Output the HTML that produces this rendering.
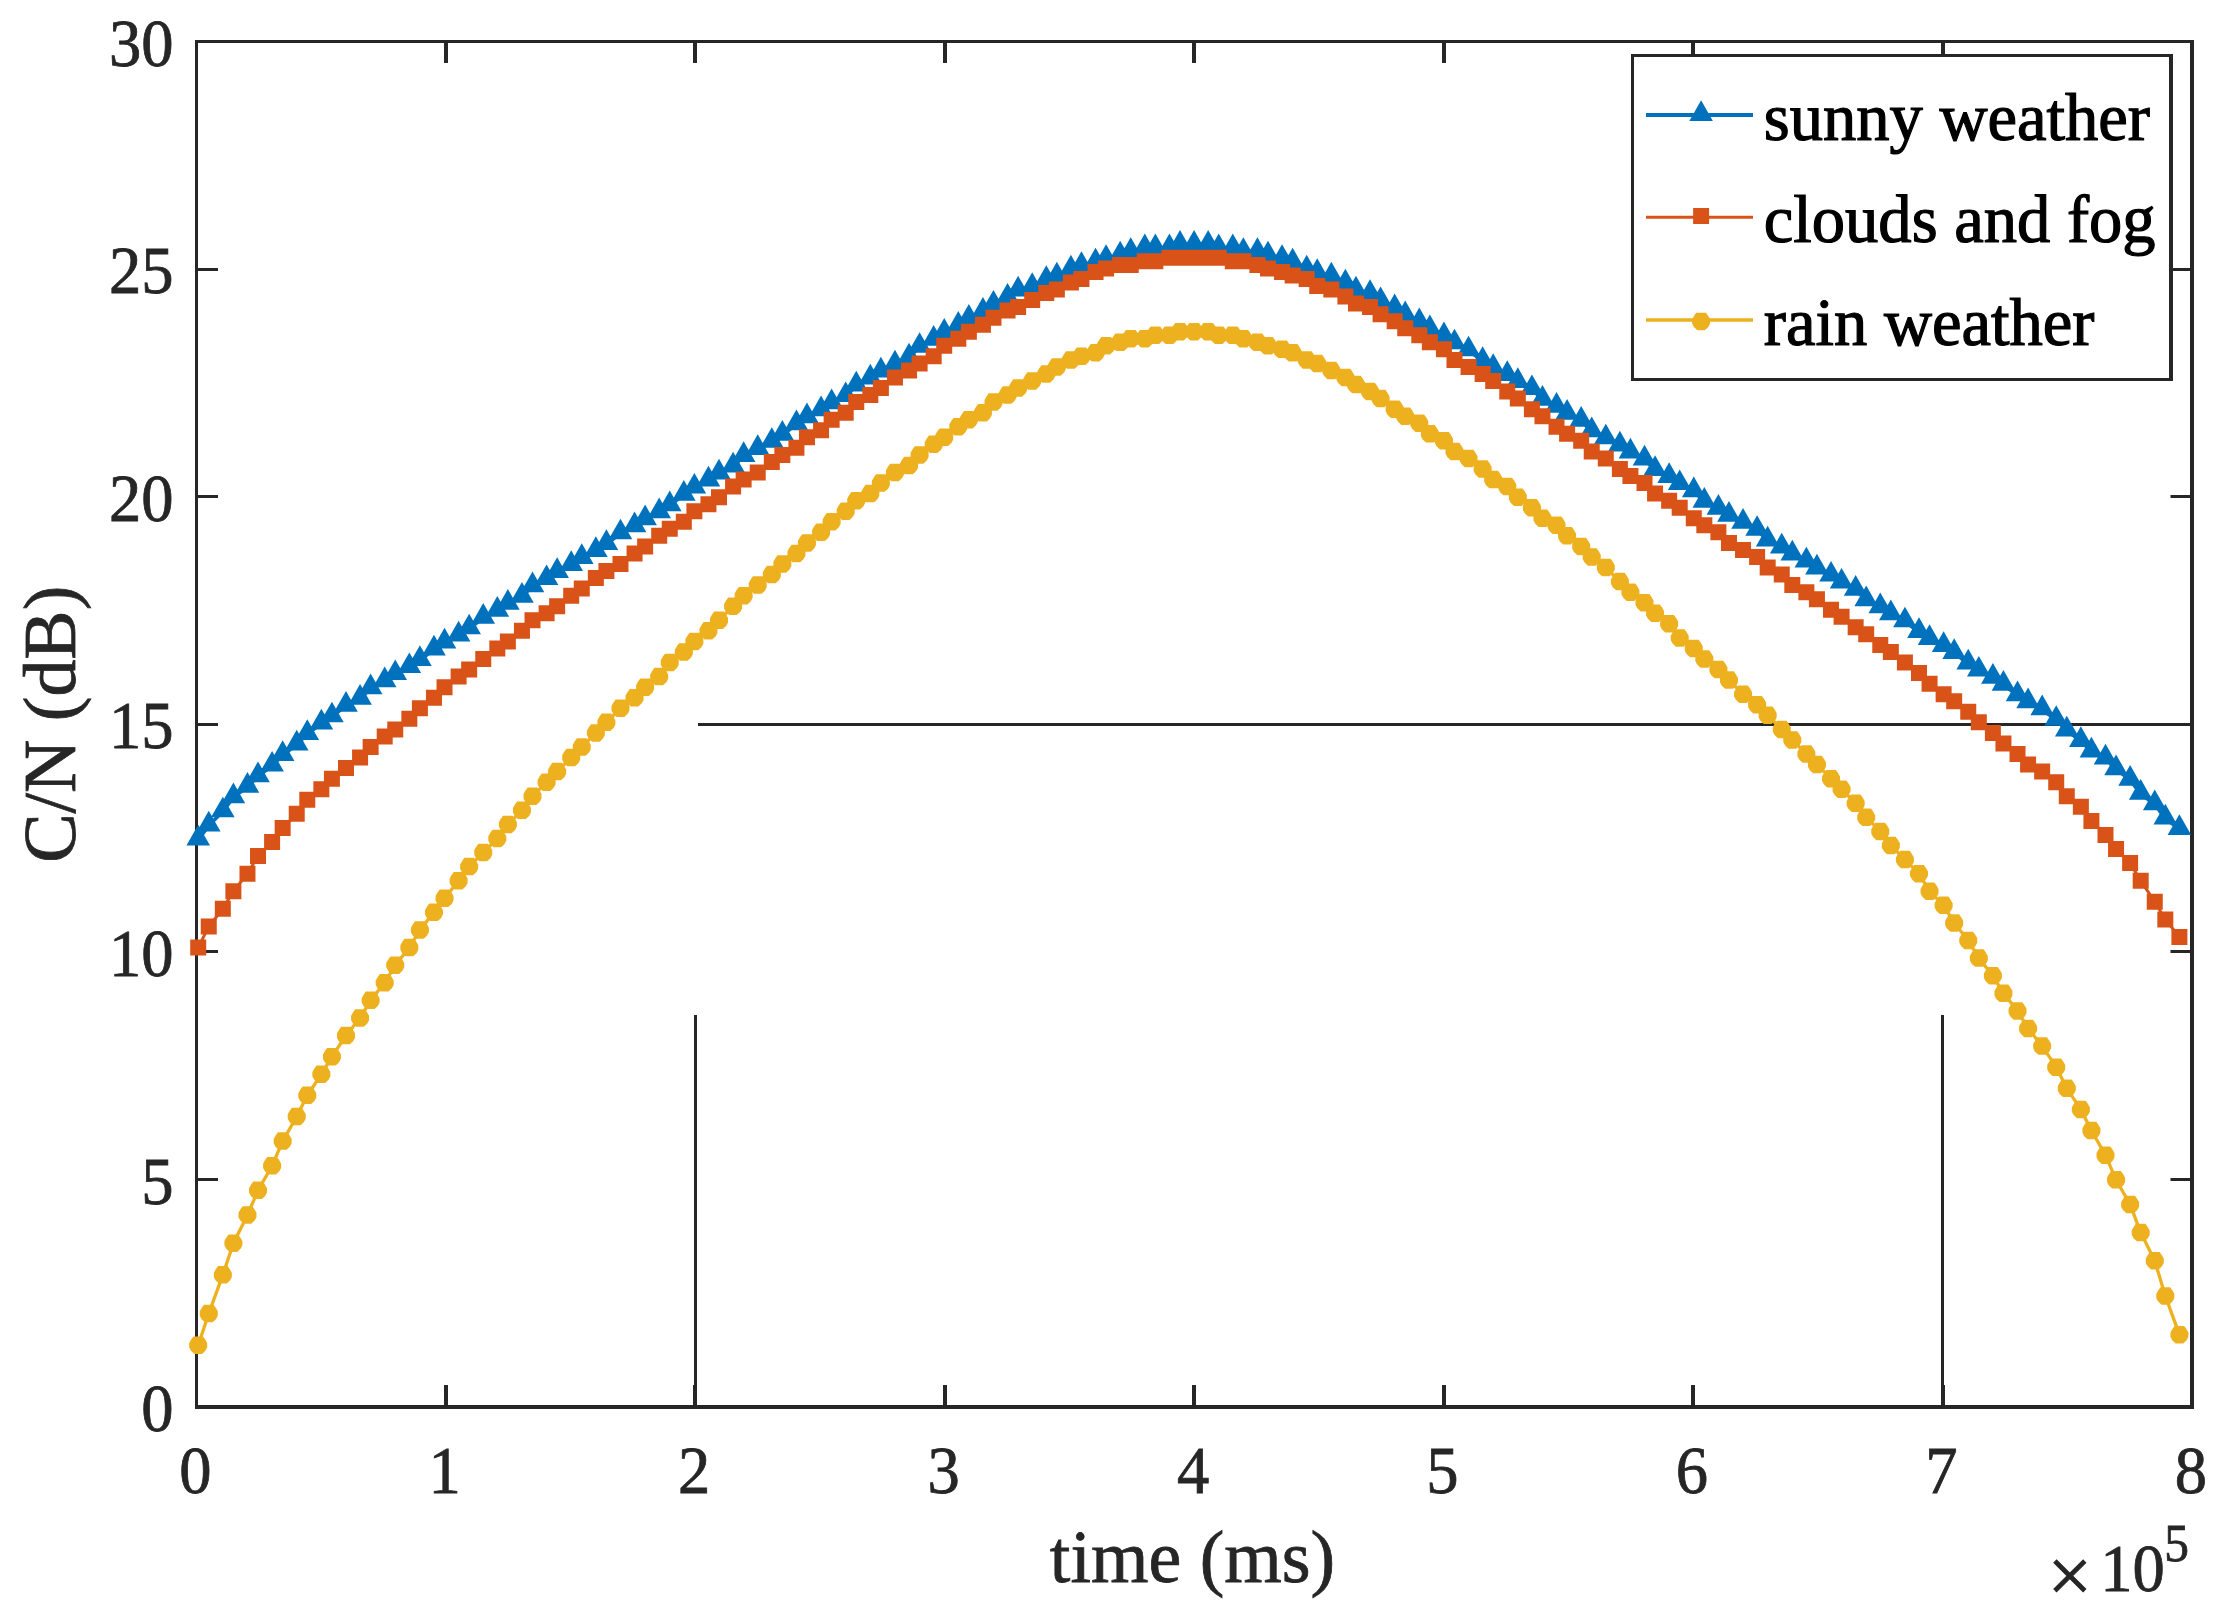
<!DOCTYPE html>
<html><head><meta charset="utf-8"><title>C/N vs time</title>
<style>
html,body{margin:0;padding:0;background:#fff;overflow:hidden;}
svg{display:block;}
text{font-family:"Liberation Serif",serif;}
.tk{font-size:68px;fill:#262626;stroke:#262626;stroke-width:0.8px;}
.lb{font-size:74.8px;fill:#262626;stroke:#262626;stroke-width:0.8px;}
.lg{font-size:68px;fill:#000;stroke:#000;stroke-width:1.2px;}
</style></head><body>
<svg width="2217" height="1607" viewBox="0 0 2217 1607">
<rect x="0" y="0" width="2217" height="1607" fill="#fff"/>

<path d="M195 40H198V1409H195ZM195 40H2194V43H195ZM2190 40H2194V1409H2190ZM195 1405H2194V1409H195ZM444 1385H448V1407H444ZM444 41.5H448V63H444ZM693 1385H697V1407H693ZM693 41.5H697V63H693ZM943 1385H947V1407H943ZM943 41.5H947V63H943ZM1192 1385H1196V1407H1192ZM1192 41.5H1196V63H1192ZM1442 1385H1446V1407H1442ZM1442 41.5H1446V63H1442ZM1691 1385H1695V1407H1691ZM1691 41.5H1695V63H1691ZM1941 1385H1945V1407H1941ZM1941 41.5H1945V63H1941ZM196.5 1178H218V1181H196.5ZM2170.5 1178H2192V1181H2170.5ZM196.5 950H218V953H196.5ZM2170.5 950H2192V953H2170.5ZM196.5 723H218V726H196.5ZM2170.5 723H2192V726H2170.5ZM196.5 495H218V498H196.5ZM2170.5 495H2192V498H2170.5ZM196.5 268H218V271H196.5ZM2170.5 268H2192V271H2170.5ZM694 1015H697V1407H694ZM1941 1015H1944V1407H1941ZM698 723H2192V726H698Z" fill="#262626"/>
<text class="tk" transform="translate(195.30 1492.5) scale(0.95 1)" text-anchor="middle">0</text>
<text class="tk" transform="translate(444.74 1492.5) scale(0.95 1)" text-anchor="middle">1</text>
<text class="tk" transform="translate(694.17 1492.5) scale(0.95 1)" text-anchor="middle">2</text>
<text class="tk" transform="translate(943.61 1492.5) scale(0.95 1)" text-anchor="middle">3</text>
<text class="tk" transform="translate(1193.05 1492.5) scale(0.95 1)" text-anchor="middle">4</text>
<text class="tk" transform="translate(1442.49 1492.5) scale(0.95 1)" text-anchor="middle">5</text>
<text class="tk" transform="translate(1691.92 1492.5) scale(0.95 1)" text-anchor="middle">6</text>
<text class="tk" transform="translate(1941.36 1492.5) scale(0.95 1)" text-anchor="middle">7</text>
<text class="tk" transform="translate(2190.80 1492.5) scale(0.95 1)" text-anchor="middle">8</text>
<text class="tk" transform="translate(173.5 1431.10) scale(0.95 1)" text-anchor="end">0</text>
<text class="tk" transform="translate(173.5 1203.52) scale(0.95 1)" text-anchor="end">5</text>
<text class="tk" transform="translate(173.5 975.93) scale(0.95 1)" text-anchor="end">10</text>
<text class="tk" transform="translate(173.5 748.35) scale(0.95 1)" text-anchor="end">15</text>
<text class="tk" transform="translate(173.5 520.77) scale(0.95 1)" text-anchor="end">20</text>
<text class="tk" transform="translate(173.5 293.18) scale(0.95 1)" text-anchor="end">25</text>
<text class="tk" transform="translate(173.5 65.60) scale(0.95 1)" text-anchor="end">30</text>
<text class="lb" transform="translate(1192.5 1581.8) scale(0.988 1)" text-anchor="middle">time (ms)</text>
<text class="lb" transform="translate(75.1 724.3) rotate(-90) scale(0.988 1)" text-anchor="middle">C/N (dB)</text>
<text class="tk" x="2047.5" y="1601.5" style="font-size:79px">×</text>
<text class="tk" transform="translate(2132.6 1591.3) scale(0.95 1)" text-anchor="middle">10</text>
<text class="tk" transform="translate(2176.5 1561) scale(0.95 1)" text-anchor="middle" style="font-size:52px">5</text>
<polyline points="198.20,839.61 208.76,825.53 222.83,811.46 233.39,797.38 247.47,786.83 258.02,776.27 272.10,765.71 282.66,755.15 296.73,744.60 307.29,734.04 321.37,723.48 331.92,716.45 346.00,705.89 360.07,698.85 370.63,688.29 384.71,681.26 395.26,674.22 409.34,667.18 419.90,660.14 433.97,649.58 444.53,642.55 458.61,635.51 469.16,628.47 483.24,617.91 497.31,610.88 507.87,603.84 521.95,596.80 532.50,586.24 546.58,579.20 557.14,572.17 571.21,565.13 581.77,558.09 595.85,551.05 606.40,544.01 620.48,533.46 634.56,526.42 645.11,519.38 659.19,512.34 669.75,505.31 683.82,494.75 694.38,487.71 708.45,480.67 719.01,473.63 733.09,466.60 743.64,456.04 757.72,449.00 771.80,441.96 782.35,434.93 796.43,424.37 806.99,417.33 821.06,410.29 831.62,403.25 845.70,396.22 856.25,385.66 870.33,378.62 880.89,371.58 894.96,364.55 909.04,357.51 919.60,346.95 933.67,339.91 944.23,332.87 958.30,325.84 968.86,318.80 982.94,311.76 993.49,304.72 1007.57,297.68 1018.13,290.65 1032.20,287.13 1046.28,280.09 1056.84,276.57 1070.91,269.53 1081.47,266.01 1095.55,262.49 1106.10,258.98 1120.18,255.46 1130.74,251.94 1144.81,248.42 1155.37,248.42 1169.44,248.42 1180.00,244.90 1194.08,244.90 1208.15,244.90 1218.71,248.42 1232.79,248.42 1243.34,251.94 1257.42,251.94 1267.98,255.46 1282.05,258.98 1292.61,262.49 1306.69,269.53 1317.24,273.05 1331.32,276.57 1345.39,283.61 1355.95,290.65 1370.03,294.17 1380.58,301.20 1394.66,308.24 1405.22,315.28 1419.29,322.32 1429.85,329.36 1443.93,336.39 1454.48,343.43 1468.56,350.47 1482.63,361.03 1493.19,368.06 1507.27,375.10 1517.83,382.14 1531.90,389.18 1542.46,399.74 1556.53,406.77 1567.09,413.81 1581.17,420.85 1591.72,431.41 1605.80,438.44 1619.88,445.48 1630.43,452.52 1644.51,459.56 1655.07,470.12 1669.14,477.15 1679.70,484.19 1693.78,491.23 1704.33,501.79 1718.41,508.82 1728.97,515.86 1743.04,522.90 1757.12,529.94 1767.67,540.50 1781.75,547.53 1792.31,554.57 1806.38,561.61 1816.94,568.65 1831.02,575.69 1841.57,582.72 1855.65,589.76 1866.21,600.32 1880.28,607.36 1890.84,614.39 1904.92,621.43 1918.99,631.99 1929.55,639.03 1943.62,646.07 1954.18,653.10 1968.26,663.66 1978.81,670.70 1992.89,677.74 2003.45,684.77 2017.52,695.33 2028.08,702.37 2042.16,709.41 2056.23,719.96 2066.79,730.52 2080.86,741.08 2091.42,751.64 2105.50,758.67 2116.05,769.23 2130.13,779.79 2140.69,793.86 2154.76,804.42 2165.32,818.50 2179.40,829.05" fill="none" stroke="#0072BD" stroke-width="3.7" stroke-linejoin="round"/>
<path d="M198.20 824.81L210.00 845.51H186.40ZM208.76 810.73L220.56 831.43H196.96ZM222.83 796.66L234.63 817.36H211.03ZM233.39 782.58L245.19 803.28H221.59ZM247.47 772.03L259.27 792.73H235.67ZM258.02 761.47L269.82 782.17H246.22ZM272.10 750.91L283.90 771.61H260.30ZM282.66 740.35L294.46 761.05H270.86ZM296.73 729.80L308.53 750.50H284.93ZM307.29 719.24L319.09 739.94H295.49ZM321.37 708.68L333.17 729.38H309.56ZM331.92 701.65L343.72 722.35H320.12ZM346.00 691.09L357.80 711.79H334.20ZM360.07 684.05L371.87 704.75H348.27ZM370.63 673.49L382.43 694.19H358.83ZM384.71 666.46L396.51 687.16H372.91ZM395.26 659.42L407.06 680.12H383.46ZM409.34 652.38L421.14 673.08H397.54ZM419.90 645.34L431.70 666.04H408.10ZM433.97 634.78L445.77 655.48H422.17ZM444.53 627.75L456.33 648.45H432.73ZM458.61 620.71L470.41 641.41H446.81ZM469.16 613.67L480.96 634.37H457.36ZM483.24 603.11L495.04 623.81H471.44ZM497.31 596.08L509.12 616.78H485.51ZM507.87 589.04L519.67 609.74H496.07ZM521.95 582.00L533.75 602.70H510.15ZM532.50 571.44L544.30 592.14H520.71ZM546.58 564.40L558.38 585.10H534.78ZM557.14 557.37L568.94 578.07H545.34ZM571.21 550.33L583.01 571.03H559.41ZM581.77 543.29L593.57 563.99H569.97ZM595.85 536.25L607.65 556.95H584.05ZM606.40 529.21L618.20 549.91H594.60ZM620.48 518.66L632.28 539.36H608.68ZM634.56 511.62L646.36 532.32H622.76ZM645.11 504.58L656.91 525.28H633.31ZM659.19 497.54L670.99 518.24H647.39ZM669.75 490.50L681.55 511.20H657.95ZM683.82 479.95L695.62 500.65H672.02ZM694.38 472.91L706.18 493.61H682.58ZM708.45 465.87L720.25 486.57H696.65ZM719.01 458.83L730.81 479.53H707.21ZM733.09 451.80L744.89 472.50H721.29ZM743.64 441.24L755.44 461.94H731.85ZM757.72 434.20L769.52 454.90H745.92ZM771.80 427.16L783.60 447.86H760.00ZM782.35 420.12L794.15 440.82H770.55ZM796.43 409.57L808.23 430.27H784.63ZM806.99 402.53L818.79 423.23H795.19ZM821.06 395.49L832.86 416.19H809.26ZM831.62 388.45L843.42 409.15H819.82ZM845.70 381.42L857.50 402.12H833.90ZM856.25 370.86L868.05 391.56H844.45ZM870.33 363.82L882.13 384.52H858.53ZM880.89 356.78L892.69 377.48H869.09ZM894.96 349.75L906.76 370.44H883.16ZM909.04 342.71L920.84 363.41H897.24ZM919.60 332.15L931.39 352.85H907.80ZM933.67 325.11L945.47 345.81H921.87ZM944.23 318.07L956.03 338.77H932.43ZM958.30 311.04L970.10 331.74H946.50ZM968.86 304.00L980.66 324.70H957.06ZM982.94 296.96L994.74 317.66H971.14ZM993.49 289.92L1005.29 310.62H981.69ZM1007.57 282.88L1019.37 303.58H995.77ZM1018.13 275.85L1029.93 296.55H1006.33ZM1032.20 272.33L1044.00 293.03H1020.40ZM1046.28 265.29L1058.08 285.99H1034.48ZM1056.84 261.77L1068.64 282.47H1045.04ZM1070.91 254.73L1082.71 275.43H1059.11ZM1081.47 251.21L1093.27 271.91H1069.67ZM1095.55 247.69L1107.35 268.39H1083.75ZM1106.10 244.18L1117.90 264.88H1094.30ZM1120.18 240.66L1131.98 261.36H1108.38ZM1130.74 237.14L1142.54 257.84H1118.94ZM1144.81 233.62L1156.61 254.32H1133.01ZM1155.37 233.62L1167.17 254.32H1143.57ZM1169.44 233.62L1181.24 254.32H1157.64ZM1180.00 230.10L1191.80 250.80H1168.20ZM1194.08 230.10L1205.88 250.80H1182.28ZM1208.15 230.10L1219.95 250.80H1196.35ZM1218.71 233.62L1230.51 254.32H1206.91ZM1232.79 233.62L1244.59 254.32H1220.99ZM1243.34 237.14L1255.14 257.84H1231.54ZM1257.42 237.14L1269.22 257.84H1245.62ZM1267.98 240.66L1279.78 261.36H1256.18ZM1282.05 244.18L1293.85 264.88H1270.25ZM1292.61 247.69L1304.41 268.39H1280.81ZM1306.69 254.73L1318.49 275.43H1294.89ZM1317.24 258.25L1329.04 278.95H1305.44ZM1331.32 261.77L1343.12 282.47H1319.52ZM1345.39 268.81L1357.19 289.51H1333.59ZM1355.95 275.85L1367.75 296.55H1344.15ZM1370.03 279.37L1381.83 300.06H1358.23ZM1380.58 286.40L1392.38 307.10H1368.78ZM1394.66 293.44L1406.46 314.14H1382.86ZM1405.22 300.48L1417.02 321.18H1393.42ZM1419.29 307.52L1431.09 328.22H1407.49ZM1429.85 314.56L1441.65 335.25H1418.05ZM1443.93 321.59L1455.73 342.29H1432.13ZM1454.48 328.63L1466.28 349.33H1442.68ZM1468.56 335.67L1480.36 356.37H1456.76ZM1482.63 346.23L1494.43 366.93H1470.84ZM1493.19 353.26L1504.99 373.96H1481.39ZM1507.27 360.30L1519.07 381.00H1495.47ZM1517.83 367.34L1529.62 388.04H1506.03ZM1531.90 374.38L1543.70 395.08H1520.10ZM1542.46 384.94L1554.26 405.63H1530.66ZM1556.53 391.97L1568.33 412.67H1544.73ZM1567.09 399.01L1578.89 419.71H1555.29ZM1581.17 406.05L1592.97 426.75H1569.37ZM1591.72 416.61L1603.52 437.31H1579.92ZM1605.80 423.64L1617.60 444.34H1594.00ZM1619.88 430.68L1631.68 451.38H1608.08ZM1630.43 437.72L1642.23 458.42H1618.63ZM1644.51 444.76L1656.31 465.46H1632.71ZM1655.07 455.31L1666.87 476.01H1643.27ZM1669.14 462.35L1680.94 483.05H1657.34ZM1679.70 469.39L1691.50 490.09H1667.90ZM1693.78 476.43L1705.58 497.13H1681.98ZM1704.33 486.99L1716.13 507.69H1692.53ZM1718.41 494.02L1730.21 514.72H1706.61ZM1728.97 501.06L1740.77 521.76H1717.17ZM1743.04 508.10L1754.84 528.80H1731.24ZM1757.12 515.14L1768.92 535.84H1745.32ZM1767.67 525.70L1779.47 546.40H1755.87ZM1781.75 532.73L1793.55 553.43H1769.95ZM1792.31 539.77L1804.11 560.47H1780.51ZM1806.38 546.81L1818.18 567.51H1794.58ZM1816.94 553.85L1828.74 574.55H1805.14ZM1831.02 560.89L1842.82 581.59H1819.22ZM1841.57 567.92L1853.37 588.62H1829.77ZM1855.65 574.96L1867.45 595.66H1843.85ZM1866.21 585.52L1878.01 606.22H1854.41ZM1880.28 592.56L1892.08 613.26H1868.48ZM1890.84 599.59L1902.64 620.29H1879.04ZM1904.92 606.63L1916.72 627.33H1893.12ZM1918.99 617.19L1930.79 637.89H1907.19ZM1929.55 624.23L1941.35 644.93H1917.75ZM1943.62 631.27L1955.42 651.97H1931.82ZM1954.18 638.30L1965.98 659.00H1942.38ZM1968.26 648.86L1980.06 669.56H1956.46ZM1978.81 655.90L1990.61 676.60H1967.01ZM1992.89 662.94L2004.69 683.64H1981.09ZM2003.45 669.97L2015.25 690.67H1991.65ZM2017.52 680.53L2029.32 701.23H2005.72ZM2028.08 687.57L2039.88 708.27H2016.28ZM2042.16 694.61L2053.96 715.31H2030.36ZM2056.23 705.16L2068.03 725.86H2044.43ZM2066.79 715.72L2078.59 736.42H2054.99ZM2080.86 726.28L2092.66 746.98H2069.06ZM2091.42 736.84L2103.22 757.54H2079.62ZM2105.50 743.87L2117.30 764.57H2093.70ZM2116.05 754.43L2127.86 775.13H2104.25ZM2130.13 764.99L2141.93 785.69H2118.33ZM2140.69 779.06L2152.49 799.76H2128.89ZM2154.76 789.62L2166.56 810.32H2142.96ZM2165.32 803.70L2177.12 824.40H2153.52ZM2179.40 814.25L2191.20 834.95H2167.60Z" fill="#0072BD"/>
<polyline points="198.20,947.56 208.76,926.45 222.83,908.85 233.39,891.26 247.47,873.66 258.02,856.07 272.10,841.99 282.66,827.92 296.73,813.84 307.29,799.76 321.37,789.21 331.92,778.65 346.00,768.09 360.07,757.54 370.63,746.98 384.71,736.42 395.26,729.38 409.34,718.83 419.90,708.27 433.97,697.71 444.53,687.16 458.61,676.60 469.16,669.56 483.24,659.00 497.31,648.45 507.87,641.41 521.95,630.85 532.50,620.29 546.58,613.26 557.14,606.22 571.21,595.66 581.77,588.62 595.85,578.07 606.40,571.03 620.48,563.99 634.56,553.43 645.11,546.40 659.19,535.84 669.75,528.80 683.82,521.76 694.38,511.20 708.45,504.17 719.01,497.13 733.09,486.57 743.64,479.53 757.72,472.50 771.80,461.94 782.35,454.90 796.43,447.86 806.99,437.31 821.06,430.27 831.62,419.71 845.70,412.67 856.25,402.12 870.33,395.08 880.89,388.04 894.96,377.48 909.04,370.44 919.60,363.41 933.67,356.37 944.23,345.81 958.30,338.77 968.86,331.74 982.94,324.70 993.49,317.66 1007.57,310.62 1018.13,307.10 1032.20,300.06 1046.28,293.03 1056.84,289.51 1070.91,282.47 1081.47,278.95 1095.55,271.91 1106.10,268.39 1120.18,264.88 1130.74,264.88 1144.81,261.36 1155.37,261.36 1169.44,257.84 1180.00,257.84 1194.08,257.84 1208.15,257.84 1218.71,257.84 1232.79,261.36 1243.34,261.36 1257.42,264.88 1267.98,268.39 1282.05,271.91 1292.61,275.43 1306.69,278.95 1317.24,285.99 1331.32,289.51 1345.39,296.55 1355.95,303.58 1370.03,307.10 1380.58,314.14 1394.66,321.18 1405.22,328.22 1419.29,335.25 1429.85,342.29 1443.93,349.33 1454.48,359.89 1468.56,366.93 1482.63,373.96 1493.19,381.00 1507.27,391.56 1517.83,398.60 1531.90,409.15 1542.46,416.19 1556.53,426.75 1567.09,433.79 1581.17,440.82 1591.72,451.38 1605.80,458.42 1619.88,468.98 1630.43,476.01 1644.51,483.05 1655.07,493.61 1669.14,500.65 1679.70,507.69 1693.78,518.24 1704.33,525.28 1718.41,532.32 1728.97,542.88 1743.04,549.91 1757.12,556.95 1767.67,567.51 1781.75,574.55 1792.31,585.10 1806.38,592.14 1816.94,599.18 1831.02,609.74 1841.57,616.78 1855.65,627.33 1866.21,634.37 1880.28,644.93 1890.84,651.97 1904.92,662.52 1918.99,673.08 1929.55,683.64 1943.62,694.19 1954.18,701.23 1968.26,711.79 1978.81,722.35 1992.89,732.90 2003.45,743.46 2017.52,754.02 2028.08,764.57 2042.16,771.61 2056.23,782.17 2066.79,796.24 2080.86,806.80 2091.42,820.88 2105.50,834.95 2116.05,849.03 2130.13,863.11 2140.69,880.70 2154.76,901.81 2165.32,919.41 2179.40,937.00" fill="none" stroke="#D95319" stroke-width="3.0" stroke-linejoin="round"/>
<path d="M190.20 939.56h16v16h-16ZM200.76 918.45h16v16h-16ZM214.83 900.85h16v16h-16ZM225.39 883.26h16v16h-16ZM239.47 865.66h16v16h-16ZM250.02 848.07h16v16h-16ZM264.10 833.99h16v16h-16ZM274.66 819.92h16v16h-16ZM288.73 805.84h16v16h-16ZM299.29 791.76h16v16h-16ZM313.37 781.21h16v16h-16ZM323.92 770.65h16v16h-16ZM338.00 760.09h16v16h-16ZM352.07 749.54h16v16h-16ZM362.63 738.98h16v16h-16ZM376.71 728.42h16v16h-16ZM387.26 721.38h16v16h-16ZM401.34 710.83h16v16h-16ZM411.90 700.27h16v16h-16ZM425.97 689.71h16v16h-16ZM436.53 679.16h16v16h-16ZM450.61 668.60h16v16h-16ZM461.16 661.56h16v16h-16ZM475.24 651.00h16v16h-16ZM489.31 640.45h16v16h-16ZM499.87 633.41h16v16h-16ZM513.95 622.85h16v16h-16ZM524.50 612.29h16v16h-16ZM538.58 605.26h16v16h-16ZM549.14 598.22h16v16h-16ZM563.21 587.66h16v16h-16ZM573.77 580.62h16v16h-16ZM587.85 570.07h16v16h-16ZM598.40 563.03h16v16h-16ZM612.48 555.99h16v16h-16ZM626.56 545.43h16v16h-16ZM637.11 538.40h16v16h-16ZM651.19 527.84h16v16h-16ZM661.75 520.80h16v16h-16ZM675.82 513.76h16v16h-16ZM686.38 503.20h16v16h-16ZM700.45 496.17h16v16h-16ZM711.01 489.13h16v16h-16ZM725.09 478.57h16v16h-16ZM735.64 471.53h16v16h-16ZM749.72 464.50h16v16h-16ZM763.80 453.94h16v16h-16ZM774.35 446.90h16v16h-16ZM788.43 439.86h16v16h-16ZM798.99 429.31h16v16h-16ZM813.06 422.27h16v16h-16ZM823.62 411.71h16v16h-16ZM837.70 404.67h16v16h-16ZM848.25 394.12h16v16h-16ZM862.33 387.08h16v16h-16ZM872.89 380.04h16v16h-16ZM886.96 369.48h16v16h-16ZM901.04 362.44h16v16h-16ZM911.60 355.41h16v16h-16ZM925.67 348.37h16v16h-16ZM936.23 337.81h16v16h-16ZM950.30 330.77h16v16h-16ZM960.86 323.74h16v16h-16ZM974.94 316.70h16v16h-16ZM985.49 309.66h16v16h-16ZM999.57 302.62h16v16h-16ZM1010.13 299.10h16v16h-16ZM1024.20 292.06h16v16h-16ZM1038.28 285.03h16v16h-16ZM1048.84 281.51h16v16h-16ZM1062.91 274.47h16v16h-16ZM1073.47 270.95h16v16h-16ZM1087.55 263.91h16v16h-16ZM1098.10 260.39h16v16h-16ZM1112.18 256.88h16v16h-16ZM1122.74 256.88h16v16h-16ZM1136.81 253.36h16v16h-16ZM1147.37 253.36h16v16h-16ZM1161.44 249.84h16v16h-16ZM1172.00 249.84h16v16h-16ZM1186.08 249.84h16v16h-16ZM1200.15 249.84h16v16h-16ZM1210.71 249.84h16v16h-16ZM1224.79 253.36h16v16h-16ZM1235.34 253.36h16v16h-16ZM1249.42 256.88h16v16h-16ZM1259.98 260.39h16v16h-16ZM1274.05 263.91h16v16h-16ZM1284.61 267.43h16v16h-16ZM1298.69 270.95h16v16h-16ZM1309.24 277.99h16v16h-16ZM1323.32 281.51h16v16h-16ZM1337.39 288.55h16v16h-16ZM1347.95 295.58h16v16h-16ZM1362.03 299.10h16v16h-16ZM1372.58 306.14h16v16h-16ZM1386.66 313.18h16v16h-16ZM1397.22 320.22h16v16h-16ZM1411.29 327.25h16v16h-16ZM1421.85 334.29h16v16h-16ZM1435.93 341.33h16v16h-16ZM1446.48 351.89h16v16h-16ZM1460.56 358.93h16v16h-16ZM1474.63 365.96h16v16h-16ZM1485.19 373.00h16v16h-16ZM1499.27 383.56h16v16h-16ZM1509.83 390.60h16v16h-16ZM1523.90 401.15h16v16h-16ZM1534.46 408.19h16v16h-16ZM1548.53 418.75h16v16h-16ZM1559.09 425.79h16v16h-16ZM1573.17 432.82h16v16h-16ZM1583.72 443.38h16v16h-16ZM1597.80 450.42h16v16h-16ZM1611.88 460.98h16v16h-16ZM1622.43 468.01h16v16h-16ZM1636.51 475.05h16v16h-16ZM1647.07 485.61h16v16h-16ZM1661.14 492.65h16v16h-16ZM1671.70 499.69h16v16h-16ZM1685.78 510.24h16v16h-16ZM1696.33 517.28h16v16h-16ZM1710.41 524.32h16v16h-16ZM1720.97 534.88h16v16h-16ZM1735.04 541.91h16v16h-16ZM1749.12 548.95h16v16h-16ZM1759.67 559.51h16v16h-16ZM1773.75 566.55h16v16h-16ZM1784.31 577.10h16v16h-16ZM1798.38 584.14h16v16h-16ZM1808.94 591.18h16v16h-16ZM1823.02 601.74h16v16h-16ZM1833.57 608.78h16v16h-16ZM1847.65 619.33h16v16h-16ZM1858.21 626.37h16v16h-16ZM1872.28 636.93h16v16h-16ZM1882.84 643.97h16v16h-16ZM1896.92 654.52h16v16h-16ZM1910.99 665.08h16v16h-16ZM1921.55 675.64h16v16h-16ZM1935.62 686.19h16v16h-16ZM1946.18 693.23h16v16h-16ZM1960.26 703.79h16v16h-16ZM1970.81 714.35h16v16h-16ZM1984.89 724.90h16v16h-16ZM1995.45 735.46h16v16h-16ZM2009.52 746.02h16v16h-16ZM2020.08 756.57h16v16h-16ZM2034.16 763.61h16v16h-16ZM2048.23 774.17h16v16h-16ZM2058.79 788.24h16v16h-16ZM2072.86 798.80h16v16h-16ZM2083.42 812.88h16v16h-16ZM2097.50 826.95h16v16h-16ZM2108.05 841.03h16v16h-16ZM2122.13 855.11h16v16h-16ZM2132.69 872.70h16v16h-16ZM2146.76 893.81h16v16h-16ZM2157.32 911.41h16v16h-16ZM2171.40 929.00h16v16h-16Z" fill="#D95319"/>
<polyline points="198.20,1345.21 208.76,1313.54 222.83,1274.83 233.39,1243.16 247.47,1215.01 258.02,1190.37 272.10,1165.74 282.66,1141.11 296.73,1116.47 307.29,1095.36 321.37,1074.25 331.92,1056.65 346.00,1035.54 360.07,1017.94 370.63,1000.35 384.71,982.75 395.26,965.16 409.34,947.56 419.90,929.97 433.97,912.37 444.53,898.30 458.61,880.70 469.16,866.62 483.24,852.55 497.31,838.47 507.87,824.40 521.95,810.32 532.50,796.24 546.58,782.17 557.14,771.61 571.21,757.54 581.77,746.98 595.85,732.90 606.40,722.35 620.48,708.27 634.56,697.71 645.11,687.16 659.19,676.60 669.75,662.52 683.82,651.97 694.38,641.41 708.45,630.85 719.01,620.29 733.09,606.22 743.64,595.66 757.72,585.10 771.80,574.55 782.35,563.99 796.43,553.43 806.99,542.88 821.06,532.32 831.62,521.76 845.70,511.20 856.25,500.65 870.33,493.61 880.89,483.05 894.96,472.50 909.04,465.46 919.60,454.90 933.67,444.34 944.23,437.31 958.30,426.75 968.86,419.71 982.94,412.67 993.49,402.12 1007.57,395.08 1018.13,388.04 1032.20,381.00 1046.28,373.96 1056.84,366.93 1070.91,359.89 1081.47,356.37 1095.55,352.85 1106.10,345.81 1120.18,342.29 1130.74,338.77 1144.81,338.77 1155.37,335.25 1169.44,335.25 1180.00,331.74 1194.08,331.74 1208.15,331.74 1218.71,335.25 1232.79,335.25 1243.34,338.77 1257.42,342.29 1267.98,345.81 1282.05,349.33 1292.61,352.85 1306.69,359.89 1317.24,363.41 1331.32,370.44 1345.39,377.48 1355.95,384.52 1370.03,391.56 1380.58,398.60 1394.66,409.15 1405.22,416.19 1419.29,423.23 1429.85,433.79 1443.93,440.82 1454.48,451.38 1468.56,458.42 1482.63,468.98 1493.19,479.53 1507.27,486.57 1517.83,497.13 1531.90,507.69 1542.46,518.24 1556.53,525.28 1567.09,535.84 1581.17,546.40 1591.72,556.95 1605.80,567.51 1619.88,581.59 1630.43,592.14 1644.51,602.70 1655.07,613.26 1669.14,623.81 1679.70,637.89 1693.78,648.45 1704.33,659.00 1718.41,669.56 1728.97,680.12 1743.04,694.19 1757.12,704.75 1767.67,715.31 1781.75,729.38 1792.31,739.94 1806.38,754.02 1816.94,764.57 1831.02,778.65 1841.57,789.21 1855.65,803.28 1866.21,817.36 1880.28,831.43 1890.84,845.51 1904.92,859.59 1918.99,873.66 1929.55,891.26 1943.62,905.33 1954.18,922.93 1968.26,940.52 1978.81,958.12 1992.89,975.71 2003.45,993.31 2017.52,1010.90 2028.08,1028.50 2042.16,1046.09 2056.23,1067.21 2066.79,1088.32 2080.86,1109.44 2091.42,1130.55 2105.50,1155.18 2116.05,1179.82 2130.13,1204.45 2140.69,1232.60 2154.76,1260.75 2165.32,1295.94 2179.40,1334.65" fill="none" stroke="#EDB120" stroke-width="3.3" stroke-linejoin="round"/>
<path d="M193.40 1336.46L203.00 1336.46L205.20 1339.51L207.20 1343.01L207.20 1347.41L205.40 1350.81L202.00 1353.96L194.40 1353.96L191.00 1350.81L189.20 1347.41L189.20 1343.01L191.20 1339.51ZM203.96 1304.79L213.56 1304.79L215.76 1307.84L217.76 1311.34L217.76 1315.74L215.96 1319.14L212.56 1322.29L204.96 1322.29L201.56 1319.14L199.76 1315.74L199.76 1311.34L201.76 1307.84ZM218.03 1266.08L227.63 1266.08L229.83 1269.13L231.83 1272.63L231.83 1277.03L230.03 1280.43L226.63 1283.58L219.03 1283.58L215.63 1280.43L213.83 1277.03L213.83 1272.63L215.83 1269.13ZM228.59 1234.41L238.19 1234.41L240.39 1237.46L242.39 1240.96L242.39 1245.36L240.59 1248.76L237.19 1251.91L229.59 1251.91L226.19 1248.76L224.39 1245.36L224.39 1240.96L226.39 1237.46ZM242.67 1206.26L252.27 1206.26L254.47 1209.31L256.47 1212.81L256.47 1217.21L254.67 1220.61L251.27 1223.76L243.67 1223.76L240.27 1220.61L238.47 1217.21L238.47 1212.81L240.47 1209.31ZM253.22 1181.62L262.82 1181.62L265.02 1184.67L267.02 1188.17L267.02 1192.57L265.22 1195.97L261.82 1199.12L254.22 1199.12L250.82 1195.97L249.02 1192.57L249.02 1188.17L251.02 1184.67ZM267.30 1156.99L276.90 1156.99L279.10 1160.04L281.10 1163.54L281.10 1167.94L279.30 1171.34L275.90 1174.49L268.30 1174.49L264.90 1171.34L263.10 1167.94L263.10 1163.54L265.10 1160.04ZM277.86 1132.36L287.46 1132.36L289.66 1135.41L291.66 1138.91L291.66 1143.31L289.86 1146.71L286.46 1149.86L278.86 1149.86L275.46 1146.71L273.66 1143.31L273.66 1138.91L275.66 1135.41ZM291.93 1107.72L301.53 1107.72L303.73 1110.77L305.73 1114.27L305.73 1118.67L303.93 1122.07L300.53 1125.22L292.93 1125.22L289.53 1122.07L287.73 1118.67L287.73 1114.27L289.73 1110.77ZM302.49 1086.61L312.09 1086.61L314.29 1089.66L316.29 1093.16L316.29 1097.56L314.49 1100.96L311.09 1104.11L303.49 1104.11L300.09 1100.96L298.29 1097.56L298.29 1093.16L300.29 1089.66ZM316.56 1065.50L326.17 1065.50L328.37 1068.55L330.37 1072.05L330.37 1076.45L328.56 1079.85L325.17 1083.00L317.56 1083.00L314.17 1079.85L312.37 1076.45L312.37 1072.05L314.37 1068.55ZM327.12 1047.90L336.72 1047.90L338.92 1050.95L340.92 1054.45L340.92 1058.85L339.12 1062.25L335.72 1065.40L328.12 1065.40L324.72 1062.25L322.92 1058.85L322.92 1054.45L324.92 1050.95ZM341.20 1026.79L350.80 1026.79L353.00 1029.84L355.00 1033.34L355.00 1037.74L353.20 1041.14L349.80 1044.29L342.20 1044.29L338.80 1041.14L337.00 1037.74L337.00 1033.34L339.00 1029.84ZM355.27 1009.19L364.87 1009.19L367.07 1012.24L369.07 1015.74L369.07 1020.14L367.27 1023.54L363.87 1026.69L356.27 1026.69L352.87 1023.54L351.07 1020.14L351.07 1015.74L353.07 1012.24ZM365.83 991.60L375.43 991.60L377.63 994.65L379.63 998.15L379.63 1002.55L377.83 1005.95L374.43 1009.10L366.83 1009.10L363.43 1005.95L361.63 1002.55L361.63 998.15L363.63 994.65ZM379.91 974.00L389.51 974.00L391.71 977.05L393.71 980.55L393.71 984.95L391.91 988.35L388.51 991.50L380.91 991.50L377.51 988.35L375.71 984.95L375.71 980.55L377.71 977.05ZM390.46 956.41L400.06 956.41L402.26 959.46L404.26 962.96L404.26 967.36L402.46 970.76L399.06 973.91L391.46 973.91L388.06 970.76L386.26 967.36L386.26 962.96L388.26 959.46ZM404.54 938.81L414.14 938.81L416.34 941.86L418.34 945.36L418.34 949.76L416.54 953.16L413.14 956.31L405.54 956.31L402.14 953.16L400.34 949.76L400.34 945.36L402.34 941.86ZM415.10 921.22L424.70 921.22L426.90 924.27L428.90 927.77L428.90 932.17L427.10 935.57L423.70 938.72L416.10 938.72L412.70 935.57L410.90 932.17L410.90 927.77L412.90 924.27ZM429.17 903.62L438.77 903.62L440.97 906.67L442.97 910.17L442.97 914.57L441.17 917.97L437.77 921.12L430.17 921.12L426.77 917.97L424.97 914.57L424.97 910.17L426.97 906.67ZM439.73 889.55L449.33 889.55L451.53 892.60L453.53 896.10L453.53 900.50L451.73 903.90L448.33 907.05L440.73 907.05L437.33 903.90L435.53 900.50L435.53 896.10L437.53 892.60ZM453.81 871.95L463.41 871.95L465.61 875.00L467.61 878.50L467.61 882.90L465.81 886.30L462.41 889.45L454.81 889.45L451.41 886.30L449.61 882.90L449.61 878.50L451.61 875.00ZM464.36 857.87L473.96 857.87L476.16 860.92L478.16 864.42L478.16 868.82L476.36 872.22L472.96 875.37L465.36 875.37L461.96 872.22L460.16 868.82L460.16 864.42L462.16 860.92ZM478.44 843.80L488.04 843.80L490.24 846.85L492.24 850.35L492.24 854.75L490.44 858.15L487.04 861.30L479.44 861.30L476.04 858.15L474.24 854.75L474.24 850.35L476.24 846.85ZM492.51 829.72L502.12 829.72L504.31 832.77L506.31 836.27L506.31 840.67L504.51 844.07L501.12 847.22L493.51 847.22L490.12 844.07L488.31 840.67L488.31 836.27L490.31 832.77ZM503.07 815.65L512.67 815.65L514.87 818.70L516.87 822.20L516.87 826.60L515.07 830.00L511.67 833.15L504.07 833.15L500.67 830.00L498.87 826.60L498.87 822.20L500.87 818.70ZM517.15 801.57L526.75 801.57L528.95 804.62L530.95 808.12L530.95 812.52L529.15 815.92L525.75 819.07L518.15 819.07L514.75 815.92L512.95 812.52L512.95 808.12L514.95 804.62ZM527.71 787.49L537.30 787.49L539.50 790.54L541.50 794.04L541.50 798.44L539.71 801.84L536.30 804.99L528.71 804.99L525.30 801.84L523.50 798.44L523.50 794.04L525.50 790.54ZM541.78 773.42L551.38 773.42L553.58 776.47L555.58 779.97L555.58 784.37L553.78 787.77L550.38 790.92L542.78 790.92L539.38 787.77L537.58 784.37L537.58 779.97L539.58 776.47ZM552.34 762.86L561.94 762.86L564.14 765.91L566.14 769.41L566.14 773.81L564.34 777.21L560.94 780.36L553.34 780.36L549.94 777.21L548.14 773.81L548.14 769.41L550.14 765.91ZM566.41 748.79L576.01 748.79L578.21 751.84L580.21 755.34L580.21 759.74L578.41 763.14L575.01 766.29L567.41 766.29L564.01 763.14L562.21 759.74L562.21 755.34L564.21 751.84ZM576.97 738.23L586.57 738.23L588.77 741.28L590.77 744.78L590.77 749.18L588.97 752.58L585.57 755.73L577.97 755.73L574.57 752.58L572.77 749.18L572.77 744.78L574.77 741.28ZM591.05 724.15L600.65 724.15L602.85 727.20L604.85 730.70L604.85 735.10L603.05 738.50L599.65 741.65L592.05 741.65L588.65 738.50L586.85 735.10L586.85 730.70L588.85 727.20ZM601.60 713.60L611.20 713.60L613.40 716.64L615.40 720.14L615.40 724.55L613.60 727.95L610.20 731.10L602.60 731.10L599.20 727.95L597.40 724.55L597.40 720.14L599.40 716.64ZM615.68 699.52L625.28 699.52L627.48 702.57L629.48 706.07L629.48 710.47L627.68 713.87L624.28 717.02L616.68 717.02L613.28 713.87L611.48 710.47L611.48 706.07L613.48 702.57ZM629.76 688.96L639.36 688.96L641.56 692.01L643.56 695.51L643.56 699.91L641.76 703.31L638.36 706.46L630.76 706.46L627.36 703.31L625.56 699.91L625.56 695.51L627.56 692.01ZM640.31 678.41L649.91 678.41L652.11 681.46L654.11 684.96L654.11 689.36L652.31 692.76L648.91 695.91L641.31 695.91L637.91 692.76L636.11 689.36L636.11 684.96L638.11 681.46ZM654.39 667.85L663.99 667.85L666.19 670.90L668.19 674.40L668.19 678.80L666.39 682.20L662.99 685.35L655.39 685.35L651.99 682.20L650.19 678.80L650.19 674.40L652.19 670.90ZM664.95 653.77L674.55 653.77L676.75 656.82L678.75 660.32L678.75 664.72L676.95 668.12L673.55 671.27L665.95 671.27L662.55 668.12L660.75 664.72L660.75 660.32L662.75 656.82ZM679.02 643.22L688.62 643.22L690.82 646.26L692.82 649.76L692.82 654.17L691.02 657.57L687.62 660.72L680.02 660.72L676.62 657.57L674.82 654.17L674.82 649.76L676.82 646.26ZM689.58 632.66L699.18 632.66L701.38 635.71L703.38 639.21L703.38 643.61L701.58 647.01L698.18 650.16L690.58 650.16L687.18 647.01L685.38 643.61L685.38 639.21L687.38 635.71ZM703.65 622.10L713.25 622.10L715.45 625.15L717.45 628.65L717.45 633.05L715.65 636.45L712.25 639.60L704.65 639.60L701.25 636.45L699.45 633.05L699.45 628.65L701.45 625.15ZM714.21 611.54L723.81 611.54L726.01 614.59L728.01 618.09L728.01 622.49L726.21 625.89L722.81 629.04L715.21 629.04L711.81 625.89L710.01 622.49L710.01 618.09L712.01 614.59ZM728.29 597.47L737.89 597.47L740.09 600.52L742.09 604.02L742.09 608.42L740.29 611.82L736.89 614.97L729.29 614.97L725.89 611.82L724.09 608.42L724.09 604.02L726.09 600.52ZM738.85 586.91L748.44 586.91L750.64 589.96L752.64 593.46L752.64 597.86L750.85 601.26L747.44 604.41L739.85 604.41L736.44 601.26L734.64 597.86L734.64 593.46L736.64 589.96ZM752.92 576.35L762.52 576.35L764.72 579.40L766.72 582.90L766.72 587.30L764.92 590.70L761.52 593.85L753.92 593.85L750.52 590.70L748.72 587.30L748.72 582.90L750.72 579.40ZM767.00 565.80L776.60 565.80L778.80 568.85L780.80 572.35L780.80 576.75L779.00 580.15L775.60 583.30L768.00 583.30L764.60 580.15L762.80 576.75L762.80 572.35L764.80 568.85ZM777.55 555.24L787.15 555.24L789.35 558.29L791.35 561.79L791.35 566.19L789.55 569.59L786.15 572.74L778.55 572.74L775.15 569.59L773.35 566.19L773.35 561.79L775.35 558.29ZM791.63 544.68L801.23 544.68L803.43 547.73L805.43 551.23L805.43 555.63L803.63 559.03L800.23 562.18L792.63 562.18L789.23 559.03L787.43 555.63L787.43 551.23L789.43 547.73ZM802.19 534.13L811.79 534.13L813.99 537.18L815.99 540.68L815.99 545.08L814.19 548.48L810.79 551.63L803.19 551.63L799.79 548.48L797.99 545.08L797.99 540.68L799.99 537.18ZM816.26 523.57L825.86 523.57L828.06 526.62L830.06 530.12L830.06 534.52L828.26 537.92L824.86 541.07L817.26 541.07L813.86 537.92L812.06 534.52L812.06 530.12L814.06 526.62ZM826.82 513.01L836.42 513.01L838.62 516.06L840.62 519.56L840.62 523.96L838.82 527.36L835.42 530.51L827.82 530.51L824.42 527.36L822.62 523.96L822.62 519.56L824.62 516.06ZM840.90 502.45L850.50 502.45L852.70 505.50L854.70 509.00L854.70 513.40L852.90 516.80L849.50 519.95L841.90 519.95L838.50 516.80L836.70 513.40L836.70 509.00L838.70 505.50ZM851.45 491.90L861.05 491.90L863.25 494.95L865.25 498.45L865.25 502.85L863.45 506.25L860.05 509.40L852.45 509.40L849.05 506.25L847.25 502.85L847.25 498.45L849.25 494.95ZM865.53 484.86L875.13 484.86L877.33 487.91L879.33 491.41L879.33 495.81L877.53 499.21L874.13 502.36L866.53 502.36L863.13 499.21L861.33 495.81L861.33 491.41L863.33 487.91ZM876.09 474.30L885.69 474.30L887.89 477.35L889.89 480.85L889.89 485.25L888.09 488.65L884.69 491.80L877.09 491.80L873.69 488.65L871.89 485.25L871.89 480.85L873.89 477.35ZM890.16 463.75L899.76 463.75L901.96 466.80L903.96 470.30L903.96 474.70L902.16 478.10L898.76 481.25L891.16 481.25L887.76 478.10L885.96 474.70L885.96 470.30L887.96 466.80ZM904.24 456.71L913.84 456.71L916.04 459.76L918.04 463.26L918.04 467.66L916.24 471.06L912.84 474.21L905.24 474.21L901.84 471.06L900.04 467.66L900.04 463.26L902.04 459.76ZM914.80 446.15L924.39 446.15L926.60 449.20L928.60 452.70L928.60 457.10L926.80 460.50L923.39 463.65L915.80 463.65L912.39 460.50L910.60 457.10L910.60 452.70L912.60 449.20ZM928.87 435.59L938.47 435.59L940.67 438.64L942.67 442.14L942.67 446.54L940.87 449.94L937.47 453.09L929.87 453.09L926.47 449.94L924.67 446.54L924.67 442.14L926.67 438.64ZM939.43 428.56L949.03 428.56L951.23 431.61L953.23 435.11L953.23 439.51L951.43 442.91L948.03 446.06L940.43 446.06L937.03 442.91L935.23 439.51L935.23 435.11L937.23 431.61ZM953.50 418.00L963.10 418.00L965.30 421.05L967.30 424.55L967.30 428.95L965.50 432.35L962.10 435.50L954.50 435.50L951.10 432.35L949.30 428.95L949.30 424.55L951.30 421.05ZM964.06 410.96L973.66 410.96L975.86 414.01L977.86 417.51L977.86 421.91L976.06 425.31L972.66 428.46L965.06 428.46L961.66 425.31L959.86 421.91L959.86 417.51L961.86 414.01ZM978.14 403.92L987.74 403.92L989.94 406.97L991.94 410.47L991.94 414.87L990.14 418.27L986.74 421.42L979.14 421.42L975.74 418.27L973.94 414.87L973.94 410.47L975.94 406.97ZM988.69 393.37L998.29 393.37L1000.49 396.42L1002.49 399.92L1002.49 404.32L1000.69 407.72L997.29 410.87L989.69 410.87L986.29 407.72L984.49 404.32L984.49 399.92L986.49 396.42ZM1002.77 386.33L1012.37 386.33L1014.57 389.38L1016.57 392.88L1016.57 397.28L1014.77 400.68L1011.37 403.83L1003.77 403.83L1000.37 400.68L998.57 397.28L998.57 392.88L1000.57 389.38ZM1013.33 379.29L1022.93 379.29L1025.13 382.34L1027.13 385.84L1027.13 390.24L1025.33 393.64L1021.93 396.79L1014.33 396.79L1010.93 393.64L1009.13 390.24L1009.13 385.84L1011.13 382.34ZM1027.40 372.25L1037.00 372.25L1039.20 375.30L1041.20 378.80L1041.20 383.20L1039.40 386.60L1036.00 389.75L1028.40 389.75L1025.00 386.60L1023.20 383.20L1023.20 378.80L1025.20 375.30ZM1041.48 365.21L1051.08 365.21L1053.28 368.26L1055.28 371.76L1055.28 376.16L1053.48 379.56L1050.08 382.71L1042.48 382.71L1039.08 379.56L1037.28 376.16L1037.28 371.76L1039.28 368.26ZM1052.04 358.18L1061.64 358.18L1063.84 361.23L1065.84 364.73L1065.84 369.13L1064.04 372.53L1060.64 375.68L1053.04 375.68L1049.64 372.53L1047.84 369.13L1047.84 364.73L1049.84 361.23ZM1066.11 351.14L1075.71 351.14L1077.91 354.19L1079.91 357.69L1079.91 362.09L1078.11 365.49L1074.71 368.64L1067.11 368.64L1063.71 365.49L1061.91 362.09L1061.91 357.69L1063.91 354.19ZM1076.67 347.62L1086.27 347.62L1088.47 350.67L1090.47 354.17L1090.47 358.57L1088.67 361.97L1085.27 365.12L1077.67 365.12L1074.27 361.97L1072.47 358.57L1072.47 354.17L1074.47 350.67ZM1090.75 344.10L1100.35 344.10L1102.55 347.15L1104.55 350.65L1104.55 355.05L1102.75 358.45L1099.35 361.60L1091.75 361.60L1088.35 358.45L1086.55 355.05L1086.55 350.65L1088.55 347.15ZM1101.30 337.06L1110.90 337.06L1113.10 340.11L1115.10 343.61L1115.10 348.01L1113.30 351.41L1109.90 354.56L1102.30 354.56L1098.90 351.41L1097.10 348.01L1097.10 343.61L1099.10 340.11ZM1115.38 333.54L1124.98 333.54L1127.18 336.59L1129.18 340.09L1129.18 344.49L1127.38 347.89L1123.98 351.04L1116.38 351.04L1112.98 347.89L1111.18 344.49L1111.18 340.09L1113.18 336.59ZM1125.94 330.02L1135.54 330.02L1137.74 333.07L1139.74 336.57L1139.74 340.97L1137.94 344.37L1134.54 347.52L1126.94 347.52L1123.54 344.37L1121.74 340.97L1121.74 336.57L1123.74 333.07ZM1140.01 330.02L1149.61 330.02L1151.81 333.07L1153.81 336.57L1153.81 340.97L1152.01 344.37L1148.61 347.52L1141.01 347.52L1137.61 344.37L1135.81 340.97L1135.81 336.57L1137.81 333.07ZM1150.57 326.50L1160.17 326.50L1162.37 329.56L1164.37 333.06L1164.37 337.45L1162.57 340.86L1159.17 344.00L1151.57 344.00L1148.17 340.86L1146.37 337.45L1146.37 333.06L1148.37 329.56ZM1164.64 326.50L1174.24 326.50L1176.44 329.56L1178.44 333.06L1178.44 337.45L1176.64 340.86L1173.24 344.00L1165.64 344.00L1162.24 340.86L1160.44 337.45L1160.44 333.06L1162.44 329.56ZM1175.20 322.99L1184.80 322.99L1187.00 326.04L1189.00 329.54L1189.00 333.94L1187.20 337.34L1183.80 340.49L1176.20 340.49L1172.80 337.34L1171.00 333.94L1171.00 329.54L1173.00 326.04ZM1189.28 322.99L1198.88 322.99L1201.08 326.04L1203.08 329.54L1203.08 333.94L1201.28 337.34L1197.88 340.49L1190.28 340.49L1186.88 337.34L1185.08 333.94L1185.08 329.54L1187.08 326.04ZM1203.35 322.99L1212.95 322.99L1215.15 326.04L1217.15 329.54L1217.15 333.94L1215.35 337.34L1211.95 340.49L1204.35 340.49L1200.95 337.34L1199.15 333.94L1199.15 329.54L1201.15 326.04ZM1213.91 326.50L1223.51 326.50L1225.71 329.56L1227.71 333.06L1227.71 337.45L1225.91 340.86L1222.51 344.00L1214.91 344.00L1211.51 340.86L1209.71 337.45L1209.71 333.06L1211.71 329.56ZM1227.99 326.50L1237.59 326.50L1239.79 329.56L1241.79 333.06L1241.79 337.45L1239.99 340.86L1236.59 344.00L1228.99 344.00L1225.59 340.86L1223.79 337.45L1223.79 333.06L1225.79 329.56ZM1238.54 330.02L1248.14 330.02L1250.34 333.07L1252.34 336.57L1252.34 340.97L1250.54 344.37L1247.14 347.52L1239.54 347.52L1236.14 344.37L1234.34 340.97L1234.34 336.57L1236.34 333.07ZM1252.62 333.54L1262.22 333.54L1264.42 336.59L1266.42 340.09L1266.42 344.49L1264.62 347.89L1261.22 351.04L1253.62 351.04L1250.22 347.89L1248.42 344.49L1248.42 340.09L1250.42 336.59ZM1263.18 337.06L1272.78 337.06L1274.98 340.11L1276.98 343.61L1276.98 348.01L1275.18 351.41L1271.78 354.56L1264.18 354.56L1260.78 351.41L1258.98 348.01L1258.98 343.61L1260.98 340.11ZM1277.25 340.58L1286.85 340.58L1289.05 343.63L1291.05 347.13L1291.05 351.53L1289.25 354.93L1285.85 358.08L1278.25 358.08L1274.85 354.93L1273.05 351.53L1273.05 347.13L1275.05 343.63ZM1287.81 344.10L1297.41 344.10L1299.61 347.15L1301.61 350.65L1301.61 355.05L1299.81 358.45L1296.41 361.60L1288.81 361.60L1285.41 358.45L1283.61 355.05L1283.61 350.65L1285.61 347.15ZM1301.89 351.14L1311.49 351.14L1313.69 354.19L1315.69 357.69L1315.69 362.09L1313.89 365.49L1310.49 368.64L1302.89 368.64L1299.49 365.49L1297.69 362.09L1297.69 357.69L1299.69 354.19ZM1312.44 354.66L1322.04 354.66L1324.24 357.71L1326.24 361.21L1326.24 365.61L1324.44 369.01L1321.04 372.16L1313.44 372.16L1310.04 369.01L1308.24 365.61L1308.24 361.21L1310.24 357.71ZM1326.52 361.69L1336.12 361.69L1338.32 364.75L1340.32 368.25L1340.32 372.64L1338.52 376.05L1335.12 379.19L1327.52 379.19L1324.12 376.05L1322.32 372.64L1322.32 368.25L1324.32 364.75ZM1340.59 368.73L1350.19 368.73L1352.39 371.78L1354.39 375.28L1354.39 379.68L1352.59 383.08L1349.19 386.23L1341.59 386.23L1338.19 383.08L1336.39 379.68L1336.39 375.28L1338.39 371.78ZM1351.15 375.77L1360.75 375.77L1362.95 378.82L1364.95 382.32L1364.95 386.72L1363.15 390.12L1359.75 393.27L1352.15 393.27L1348.75 390.12L1346.95 386.72L1346.95 382.32L1348.95 378.82ZM1365.23 382.81L1374.83 382.81L1377.03 385.86L1379.03 389.36L1379.03 393.76L1377.23 397.16L1373.83 400.31L1366.23 400.31L1362.83 397.16L1361.03 393.76L1361.03 389.36L1363.03 385.86ZM1375.78 389.85L1385.38 389.85L1387.58 392.90L1389.58 396.40L1389.58 400.80L1387.78 404.20L1384.38 407.35L1376.78 407.35L1373.38 404.20L1371.58 400.80L1371.58 396.40L1373.58 392.90ZM1389.86 400.40L1399.46 400.40L1401.66 403.45L1403.66 406.95L1403.66 411.35L1401.86 414.75L1398.46 417.90L1390.86 417.90L1387.46 414.75L1385.66 411.35L1385.66 406.95L1387.66 403.45ZM1400.42 407.44L1410.02 407.44L1412.22 410.49L1414.22 413.99L1414.22 418.39L1412.42 421.79L1409.02 424.94L1401.42 424.94L1398.02 421.79L1396.22 418.39L1396.22 413.99L1398.22 410.49ZM1414.49 414.48L1424.09 414.48L1426.29 417.53L1428.29 421.03L1428.29 425.43L1426.49 428.83L1423.09 431.98L1415.49 431.98L1412.09 428.83L1410.29 425.43L1410.29 421.03L1412.29 417.53ZM1425.05 425.04L1434.65 425.04L1436.85 428.09L1438.85 431.59L1438.85 435.99L1437.05 439.39L1433.65 442.54L1426.05 442.54L1422.65 439.39L1420.85 435.99L1420.85 431.59L1422.85 428.09ZM1439.13 432.07L1448.73 432.07L1450.93 435.12L1452.93 438.62L1452.93 443.02L1451.13 446.43L1447.73 449.57L1440.13 449.57L1436.73 446.43L1434.93 443.02L1434.93 438.62L1436.93 435.12ZM1449.68 442.63L1459.28 442.63L1461.48 445.68L1463.48 449.18L1463.48 453.58L1461.68 456.98L1458.28 460.13L1450.68 460.13L1447.28 456.98L1445.48 453.58L1445.48 449.18L1447.48 445.68ZM1463.76 449.67L1473.36 449.67L1475.56 452.72L1477.56 456.22L1477.56 460.62L1475.76 464.02L1472.36 467.17L1464.76 467.17L1461.36 464.02L1459.56 460.62L1459.56 456.22L1461.56 452.72ZM1477.84 460.23L1487.43 460.23L1489.63 463.28L1491.63 466.78L1491.63 471.18L1489.84 474.58L1486.43 477.73L1478.84 477.73L1475.43 474.58L1473.63 471.18L1473.63 466.78L1475.63 463.28ZM1488.39 470.78L1497.99 470.78L1500.19 473.83L1502.19 477.33L1502.19 481.73L1500.39 485.13L1496.99 488.28L1489.39 488.28L1485.99 485.13L1484.19 481.73L1484.19 477.33L1486.19 473.83ZM1502.47 477.82L1512.07 477.82L1514.27 480.87L1516.27 484.37L1516.27 488.77L1514.47 492.17L1511.07 495.32L1503.47 495.32L1500.07 492.17L1498.27 488.77L1498.27 484.37L1500.27 480.87ZM1513.03 488.38L1522.62 488.38L1524.83 491.43L1526.83 494.93L1526.83 499.33L1525.03 502.73L1521.62 505.88L1514.03 505.88L1510.62 502.73L1508.83 499.33L1508.83 494.93L1510.83 491.43ZM1527.10 498.94L1536.70 498.94L1538.90 501.99L1540.90 505.49L1540.90 509.89L1539.10 513.29L1535.70 516.44L1528.10 516.44L1524.70 513.29L1522.90 509.89L1522.90 505.49L1524.90 501.99ZM1537.66 509.49L1547.26 509.49L1549.46 512.54L1551.46 516.04L1551.46 520.44L1549.66 523.84L1546.26 526.99L1538.66 526.99L1535.26 523.84L1533.46 520.44L1533.46 516.04L1535.46 512.54ZM1551.73 516.53L1561.33 516.53L1563.53 519.58L1565.53 523.08L1565.53 527.48L1563.73 530.88L1560.33 534.03L1552.73 534.03L1549.33 530.88L1547.53 527.48L1547.53 523.08L1549.53 519.58ZM1562.29 527.09L1571.89 527.09L1574.09 530.14L1576.09 533.64L1576.09 538.04L1574.29 541.44L1570.89 544.59L1563.29 544.59L1559.89 541.44L1558.09 538.04L1558.09 533.64L1560.09 530.14ZM1576.37 537.65L1585.97 537.65L1588.17 540.70L1590.17 544.20L1590.17 548.60L1588.37 552.00L1584.97 555.15L1577.37 555.15L1573.97 552.00L1572.17 548.60L1572.17 544.20L1574.17 540.70ZM1586.92 548.20L1596.52 548.20L1598.72 551.25L1600.72 554.75L1600.72 559.15L1598.92 562.55L1595.52 565.70L1587.92 565.70L1584.52 562.55L1582.72 559.15L1582.72 554.75L1584.72 551.25ZM1601.00 558.76L1610.60 558.76L1612.80 561.81L1614.80 565.31L1614.80 569.71L1613.00 573.11L1609.60 576.26L1602.00 576.26L1598.60 573.11L1596.80 569.71L1596.80 565.31L1598.80 561.81ZM1615.08 572.84L1624.68 572.84L1626.88 575.88L1628.88 579.38L1628.88 583.79L1627.08 587.19L1623.68 590.34L1616.08 590.34L1612.68 587.19L1610.88 583.79L1610.88 579.38L1612.88 575.88ZM1625.63 583.39L1635.23 583.39L1637.43 586.44L1639.43 589.94L1639.43 594.34L1637.63 597.74L1634.23 600.89L1626.63 600.89L1623.23 597.74L1621.43 594.34L1621.43 589.94L1623.43 586.44ZM1639.71 593.95L1649.31 593.95L1651.51 597.00L1653.51 600.50L1653.51 604.90L1651.71 608.30L1648.31 611.45L1640.71 611.45L1637.31 608.30L1635.51 604.90L1635.51 600.50L1637.51 597.00ZM1650.27 604.51L1659.87 604.51L1662.07 607.56L1664.07 611.06L1664.07 615.46L1662.27 618.86L1658.87 622.01L1651.27 622.01L1647.87 618.86L1646.07 615.46L1646.07 611.06L1648.07 607.56ZM1664.34 615.06L1673.94 615.06L1676.14 618.11L1678.14 621.61L1678.14 626.01L1676.34 629.41L1672.94 632.56L1665.34 632.56L1661.94 629.41L1660.14 626.01L1660.14 621.61L1662.14 618.11ZM1674.90 629.14L1684.50 629.14L1686.70 632.19L1688.70 635.69L1688.70 640.09L1686.90 643.49L1683.50 646.64L1675.90 646.64L1672.50 643.49L1670.70 640.09L1670.70 635.69L1672.70 632.19ZM1688.98 639.70L1698.58 639.70L1700.78 642.75L1702.78 646.25L1702.78 650.65L1700.98 654.05L1697.58 657.20L1689.98 657.20L1686.58 654.05L1684.78 650.65L1684.78 646.25L1686.78 642.75ZM1699.53 650.25L1709.13 650.25L1711.33 653.30L1713.33 656.80L1713.33 661.20L1711.53 664.60L1708.13 667.75L1700.53 667.75L1697.13 664.60L1695.33 661.20L1695.33 656.80L1697.33 653.30ZM1713.61 660.81L1723.21 660.81L1725.41 663.86L1727.41 667.36L1727.41 671.76L1725.61 675.16L1722.21 678.31L1714.61 678.31L1711.21 675.16L1709.41 671.76L1709.41 667.36L1711.41 663.86ZM1724.17 671.37L1733.77 671.37L1735.97 674.42L1737.97 677.92L1737.97 682.32L1736.17 685.72L1732.77 688.87L1725.17 688.87L1721.77 685.72L1719.97 682.32L1719.97 677.92L1721.97 674.42ZM1738.24 685.44L1747.84 685.44L1750.04 688.49L1752.04 691.99L1752.04 696.39L1750.24 699.79L1746.84 702.94L1739.24 702.94L1735.84 699.79L1734.04 696.39L1734.04 691.99L1736.04 688.49ZM1752.32 696.00L1761.92 696.00L1764.12 699.05L1766.12 702.55L1766.12 706.95L1764.32 710.35L1760.92 713.50L1753.32 713.50L1749.92 710.35L1748.12 706.95L1748.12 702.55L1750.12 699.05ZM1762.87 706.56L1772.47 706.56L1774.67 709.61L1776.67 713.11L1776.67 717.51L1774.87 720.91L1771.47 724.06L1763.87 724.06L1760.47 720.91L1758.67 717.51L1758.67 713.11L1760.67 709.61ZM1776.95 720.63L1786.55 720.63L1788.75 723.68L1790.75 727.18L1790.75 731.58L1788.95 734.98L1785.55 738.13L1777.95 738.13L1774.55 734.98L1772.75 731.58L1772.75 727.18L1774.75 723.68ZM1787.51 731.19L1797.11 731.19L1799.31 734.24L1801.31 737.74L1801.31 742.14L1799.51 745.54L1796.11 748.69L1788.51 748.69L1785.11 745.54L1783.31 742.14L1783.31 737.74L1785.31 734.24ZM1801.58 745.27L1811.18 745.27L1813.38 748.32L1815.38 751.82L1815.38 756.22L1813.58 759.62L1810.18 762.77L1802.58 762.77L1799.18 759.62L1797.38 756.22L1797.38 751.82L1799.38 748.32ZM1812.14 755.82L1821.74 755.82L1823.94 758.87L1825.94 762.37L1825.94 766.77L1824.14 770.17L1820.74 773.32L1813.14 773.32L1809.74 770.17L1807.94 766.77L1807.94 762.37L1809.94 758.87ZM1826.22 769.90L1835.82 769.90L1838.02 772.95L1840.02 776.45L1840.02 780.85L1838.22 784.25L1834.82 787.40L1827.22 787.40L1823.82 784.25L1822.02 780.85L1822.02 776.45L1824.02 772.95ZM1836.77 780.46L1846.37 780.46L1848.57 783.51L1850.57 787.01L1850.57 791.41L1848.77 794.81L1845.37 797.96L1837.77 797.96L1834.37 794.81L1832.57 791.41L1832.57 787.01L1834.57 783.51ZM1850.85 794.53L1860.45 794.53L1862.65 797.58L1864.65 801.08L1864.65 805.48L1862.85 808.88L1859.45 812.03L1851.85 812.03L1848.45 808.88L1846.65 805.48L1846.65 801.08L1848.65 797.58ZM1861.41 808.61L1871.01 808.61L1873.21 811.66L1875.21 815.16L1875.21 819.56L1873.41 822.96L1870.01 826.11L1862.41 826.11L1859.01 822.96L1857.21 819.56L1857.21 815.16L1859.21 811.66ZM1875.48 822.68L1885.08 822.68L1887.28 825.73L1889.28 829.23L1889.28 833.63L1887.48 837.03L1884.08 840.18L1876.48 840.18L1873.08 837.03L1871.28 833.63L1871.28 829.23L1873.28 825.73ZM1886.04 836.76L1895.64 836.76L1897.84 839.81L1899.84 843.31L1899.84 847.71L1898.04 851.11L1894.64 854.26L1887.04 854.26L1883.64 851.11L1881.84 847.71L1881.84 843.31L1883.84 839.81ZM1900.12 850.84L1909.72 850.84L1911.92 853.89L1913.92 857.39L1913.92 861.79L1912.12 865.19L1908.72 868.34L1901.12 868.34L1897.72 865.19L1895.92 861.79L1895.92 857.39L1897.92 853.89ZM1914.19 864.91L1923.79 864.91L1925.99 867.96L1927.99 871.46L1927.99 875.86L1926.19 879.26L1922.79 882.41L1915.19 882.41L1911.79 879.26L1909.99 875.86L1909.99 871.46L1911.99 867.96ZM1924.75 882.51L1934.35 882.51L1936.55 885.56L1938.55 889.06L1938.55 893.46L1936.75 896.86L1933.35 900.01L1925.75 900.01L1922.35 896.86L1920.55 893.46L1920.55 889.06L1922.55 885.56ZM1938.82 896.58L1948.42 896.58L1950.62 899.63L1952.62 903.13L1952.62 907.53L1950.82 910.93L1947.42 914.08L1939.82 914.08L1936.42 910.93L1934.62 907.53L1934.62 903.13L1936.62 899.63ZM1949.38 914.18L1958.98 914.18L1961.18 917.23L1963.18 920.73L1963.18 925.13L1961.38 928.53L1957.98 931.68L1950.38 931.68L1946.98 928.53L1945.18 925.13L1945.18 920.73L1947.18 917.23ZM1963.46 931.77L1973.06 931.77L1975.26 934.82L1977.26 938.32L1977.26 942.72L1975.46 946.12L1972.06 949.27L1964.46 949.27L1961.06 946.12L1959.26 942.72L1959.26 938.32L1961.26 934.82ZM1974.01 949.37L1983.61 949.37L1985.81 952.42L1987.81 955.92L1987.81 960.32L1986.01 963.72L1982.61 966.87L1975.01 966.87L1971.61 963.72L1969.81 960.32L1969.81 955.92L1971.81 952.42ZM1988.09 966.96L1997.69 966.96L1999.89 970.01L2001.89 973.51L2001.89 977.91L2000.09 981.31L1996.69 984.46L1989.09 984.46L1985.69 981.31L1983.89 977.91L1983.89 973.51L1985.89 970.01ZM1998.65 984.56L2008.25 984.56L2010.45 987.61L2012.45 991.11L2012.45 995.51L2010.65 998.91L2007.25 1002.06L1999.65 1002.06L1996.25 998.91L1994.45 995.51L1994.45 991.11L1996.45 987.61ZM2012.72 1002.15L2022.32 1002.15L2024.52 1005.20L2026.52 1008.70L2026.52 1013.10L2024.72 1016.50L2021.32 1019.65L2013.72 1019.65L2010.32 1016.50L2008.52 1013.10L2008.52 1008.70L2010.52 1005.20ZM2023.28 1019.75L2032.88 1019.75L2035.08 1022.80L2037.08 1026.30L2037.08 1030.70L2035.28 1034.10L2031.88 1037.25L2024.28 1037.25L2020.88 1034.10L2019.08 1030.70L2019.08 1026.30L2021.08 1022.80ZM2037.36 1037.34L2046.96 1037.34L2049.16 1040.39L2051.16 1043.89L2051.16 1048.29L2049.36 1051.69L2045.96 1054.84L2038.36 1054.84L2034.96 1051.69L2033.16 1048.29L2033.16 1043.89L2035.16 1040.39ZM2051.43 1058.46L2061.03 1058.46L2063.23 1061.51L2065.23 1065.01L2065.23 1069.41L2063.43 1072.81L2060.03 1075.96L2052.43 1075.96L2049.03 1072.81L2047.23 1069.41L2047.23 1065.01L2049.23 1061.51ZM2061.99 1079.57L2071.59 1079.57L2073.79 1082.62L2075.79 1086.12L2075.79 1090.52L2073.99 1093.92L2070.59 1097.07L2062.99 1097.07L2059.59 1093.92L2057.79 1090.52L2057.79 1086.12L2059.79 1082.62ZM2076.06 1100.69L2085.66 1100.69L2087.86 1103.74L2089.86 1107.24L2089.86 1111.64L2088.06 1115.04L2084.66 1118.19L2077.06 1118.19L2073.66 1115.04L2071.86 1111.64L2071.86 1107.24L2073.86 1103.74ZM2086.62 1121.80L2096.22 1121.80L2098.42 1124.85L2100.42 1128.35L2100.42 1132.75L2098.62 1136.15L2095.22 1139.30L2087.62 1139.30L2084.22 1136.15L2082.42 1132.75L2082.42 1128.35L2084.42 1124.85ZM2100.70 1146.43L2110.30 1146.43L2112.50 1149.48L2114.50 1152.98L2114.50 1157.38L2112.70 1160.78L2109.30 1163.93L2101.70 1163.93L2098.30 1160.78L2096.50 1157.38L2096.50 1152.98L2098.50 1149.48ZM2111.25 1171.07L2120.86 1171.07L2123.05 1174.12L2125.05 1177.62L2125.05 1182.02L2123.25 1185.41L2119.86 1188.57L2112.25 1188.57L2108.86 1185.41L2107.05 1182.02L2107.05 1177.62L2109.05 1174.12ZM2125.33 1195.70L2134.93 1195.70L2137.13 1198.75L2139.13 1202.25L2139.13 1206.65L2137.33 1210.05L2133.93 1213.20L2126.33 1213.20L2122.93 1210.05L2121.13 1206.65L2121.13 1202.25L2123.13 1198.75ZM2135.89 1223.85L2145.49 1223.85L2147.69 1226.90L2149.69 1230.40L2149.69 1234.80L2147.89 1238.20L2144.49 1241.35L2136.89 1241.35L2133.49 1238.20L2131.69 1234.80L2131.69 1230.40L2133.69 1226.90ZM2149.96 1252.00L2159.56 1252.00L2161.76 1255.05L2163.76 1258.55L2163.76 1262.95L2161.96 1266.35L2158.56 1269.50L2150.96 1269.50L2147.56 1266.35L2145.76 1262.95L2145.76 1258.55L2147.76 1255.05ZM2160.52 1287.19L2170.12 1287.19L2172.32 1290.24L2174.32 1293.74L2174.32 1298.14L2172.52 1301.54L2169.12 1304.69L2161.52 1304.69L2158.12 1301.54L2156.32 1298.14L2156.32 1293.74L2158.32 1290.24ZM2174.60 1325.90L2184.20 1325.90L2186.40 1328.95L2188.40 1332.45L2188.40 1336.85L2186.60 1340.25L2183.20 1343.40L2175.60 1343.40L2172.20 1340.25L2170.40 1336.85L2170.40 1332.45L2172.40 1328.95Z" fill="#EDB120"/>
<rect x="1631" y="54" width="542" height="327" fill="#fff"/>
<path d="M1631 54H1634V381H1631ZM1631 54H2173V57H1631ZM2169 54H2173V381H2169ZM1631 378H2173V381H1631Z" fill="#262626"/>
<path d="M1646 115.0H1753" stroke="#0072BD" stroke-width="3.9" fill="none"/>
<path d="M1701.10 100.20L1712.90 120.90H1689.30Z" fill="#0072BD"/>
<text class="lg" transform="translate(1763.8 139.60) scale(0.979 1)">sunny weather</text>
<path d="M1646 217.3H1753" stroke="#D95319" stroke-width="3.0" fill="none"/>
<path d="M1693.10 208.00h16v16h-16Z" fill="#D95319"/>
<text class="lg" transform="translate(1763.8 241.90) scale(0.979 1)">clouds and fog</text>
<path d="M1646 320.0H1753" stroke="#EDB120" stroke-width="3.6" fill="none"/>
<path d="M1696.30 312.65L1705.90 312.65L1708.10 315.70L1710.10 319.20L1710.10 323.60L1708.30 327.00L1704.90 330.15L1697.30 330.15L1693.90 327.00L1692.10 323.60L1692.10 319.20L1694.10 315.70Z" fill="#EDB120"/>
<text class="lg" transform="translate(1763.8 344.60) scale(0.979 1)">rain weather</text>
</svg></body></html>
